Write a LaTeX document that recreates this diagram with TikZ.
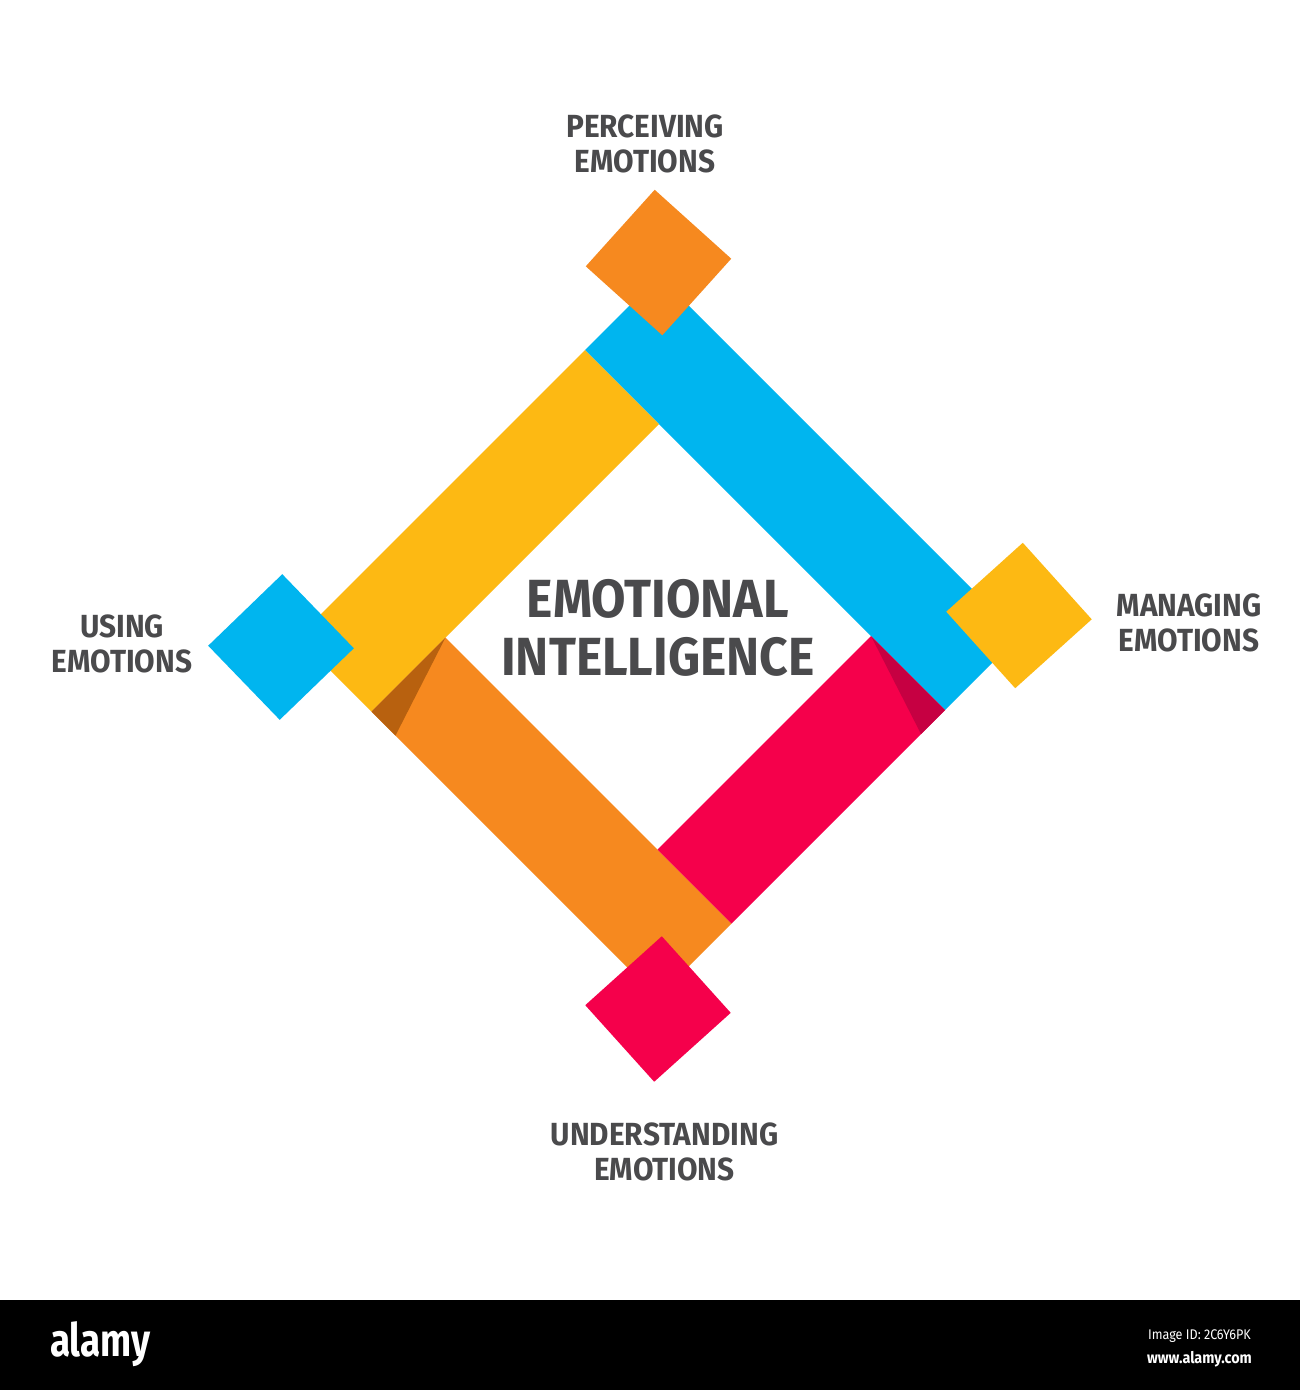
\documentclass[tikz,border=0pt]{standalone}
\usepackage{fontspec}
\setmainfont{Fira Sans}
\definecolor{eiBlue}{HTML}{00B5EF}
\definecolor{eiYellow}{HTML}{FDB913}
\definecolor{eiOrange}{HTML}{F6891F}
\definecolor{eiRed}{HTML}{F5004B}
\definecolor{eiBrown}{HTML}{B8610F}
\definecolor{eiCrimson}{HTML}{C60042}
\definecolor{eiText}{HTML}{4A4A4C}
\tikzset{
  eisquare/.style={shape=rectangle, minimum width=103pt, minimum height=103pt, inner sep=0pt, draw=none},
  eilabel/.style={text=eiText, font=\bfseries\fontsize{32}{35}\selectfont, align=center, inner sep=0pt, xscale=0.93},
  eititle/.style={text=eiText, font=\bfseries\fontsize{53.7}{58}\selectfont, align=center, inner sep=0pt, xscale=0.93},
}
\begin{document}
\begin{tikzpicture}[x=1pt,y=-1pt]
\fill[white] (0,0) rectangle (1300,1390);
\useasboundingbox (0,0) rectangle (1300,1390);
% bars
\fill[eiBlue] (659,276) -- (1019,636) -- (945,710) -- (585,350) -- cycle;
\fill[eiYellow] (585,350) -- (659,424) -- (371.5,711.5) -- (297.5,637.5) -- cycle;
\fill[eiOrange] (371.5,711.5) -- (445.5,637.5) -- (731.5,923.5) -- (657.5,997.5) -- cycle;
\fill[eiRed] (945,710) -- (871,636) -- (657.5,849.5) -- (731.5,923.5) -- cycle;
\fill[eiBrown] (371.5,711.5) -- (445.5,637.5) -- (395.5,735.5) -- cycle;
\fill[eiCrimson] (871,636) -- (945,710) -- (921,734) -- cycle;
% squares
\node[eisquare, fill=eiOrange, rotate=48] (sqP) at (658.5,262.5) {};
\node[eisquare, fill=eiBlue, rotate=44] (sqU) at (281,647) {};
\node[eisquare, fill=eiYellow, rotate=42] (sqM) at (1019,615.5) {};
\node[eisquare, fill=eiRed, rotate=42] (sqD) at (658,1009) {};
% labels
\node[eilabel] (lP) at (645,143.5) {PERCEIVING\\EMOTIONS};
\node[eilabel] (lU) at (122,643.5) {USING\\EMOTIONS};
\node[eilabel] (lM) at (1189,622.5) {MANAGING\\EMOTIONS};
\node[eilabel] (lD) at (664.5,1151.5) {UNDERSTANDING\\EMOTIONS};
\node[eititle] (title) at (658,627.5) {EMOTIONAL\\INTELLIGENCE};
% bottom band
\fill[black] (0,1300) rectangle (1300,1390);
\node[text=white, font=\bfseries\fontsize{46}{46}\selectfont, anchor=base west, inner sep=0pt, xscale=0.8] (wmA) at (50,1356) {alamy};
\node[text=white, font=\fontsize{14}{14}\selectfont, anchor=base east, inner sep=0pt, xscale=0.9] (wmB) at (1251,1339) {Image ID: 2C6Y6PK};
\node[text=white, font=\bfseries\fontsize{16}{16}\selectfont, anchor=base east, inner sep=0pt, xscale=0.9] (wmC) at (1252,1363) {www.alamy.com};
\end{tikzpicture}
\end{document}
